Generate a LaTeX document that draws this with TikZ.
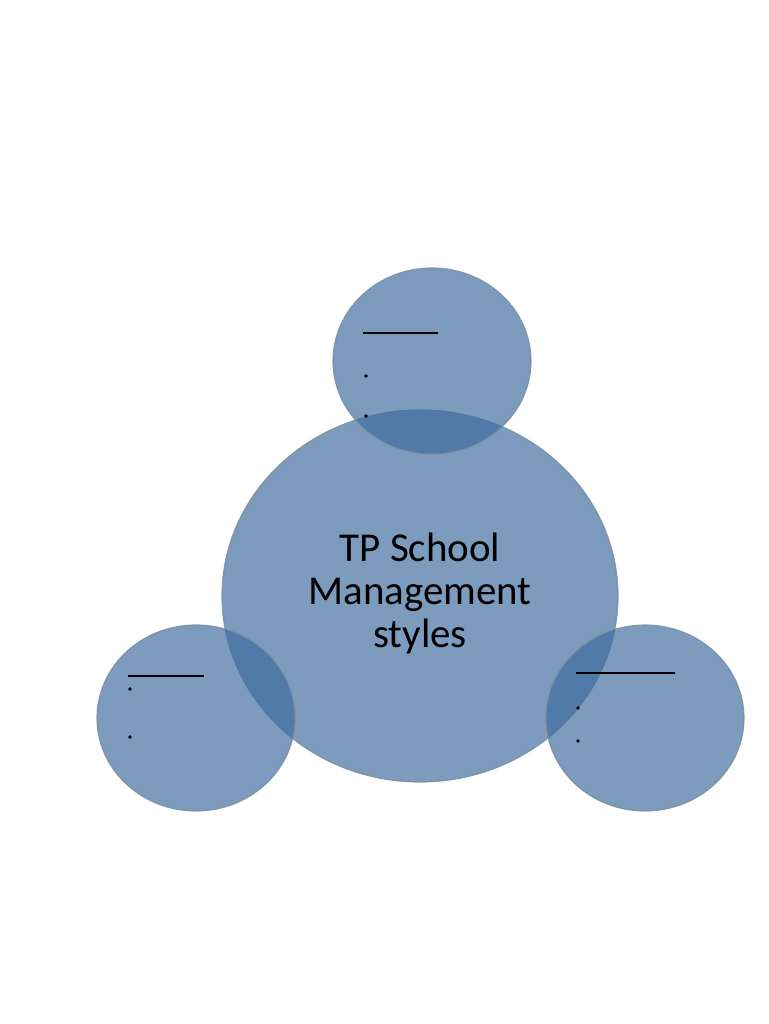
\documentclass[tikz,border=0pt]{standalone}
\usepackage{fontspec}
\setmainfont{Carlito}
\definecolor{bub}{RGB}{60,106,157}
\definecolor{bubedge}{RGB}{120,140,160}
\tikzset{
  bubble/.style={ellipse, fill=bub, fill opacity=0.67, draw=bubedge, draw opacity=0.8, line width=1.2pt, inner sep=0pt},
  rulemark/.style={draw=black, line width=1.2pt},
  dotmark/.style={fill=black}
}
\usetikzlibrary{shapes.geometric}
\begin{document}
\begin{tikzpicture}[x=1pt,y=-1pt]
\useasboundingbox (0,0) rectangle (768,1024);
\node[bubble, minimum width=396pt, minimum height=372pt] (main) at (420,596) {};
\node[bubble, minimum width=198pt, minimum height=186pt] (top) at (432,361) {};
\node[bubble, minimum width=198pt, minimum height=186pt] (left) at (196,718) {};
\node[bubble, minimum width=198pt, minimum height=186pt] (right) at (645,718) {};
\node[align=center, font=\fontsize{41}{43}\selectfont, text=black] (title) at (420,594) {TP School\\Management\\styles};
% top circle marks
\draw[rulemark] (363,333) -- (438,333);
\fill[dotmark] (366,376) circle (1.9pt);
\fill[dotmark] (366,416) circle (1.9pt);
% left circle marks
\draw[rulemark] (128,676) -- (204,676);
\fill[dotmark] (130,689) circle (1.9pt);
\fill[dotmark] (130,737) circle (1.9pt);
% right circle marks
\draw[rulemark] (576,673) -- (675,673);
\fill[dotmark] (578,708) circle (1.9pt);
\fill[dotmark] (578,741) circle (1.9pt);
\end{tikzpicture}
\end{document}
